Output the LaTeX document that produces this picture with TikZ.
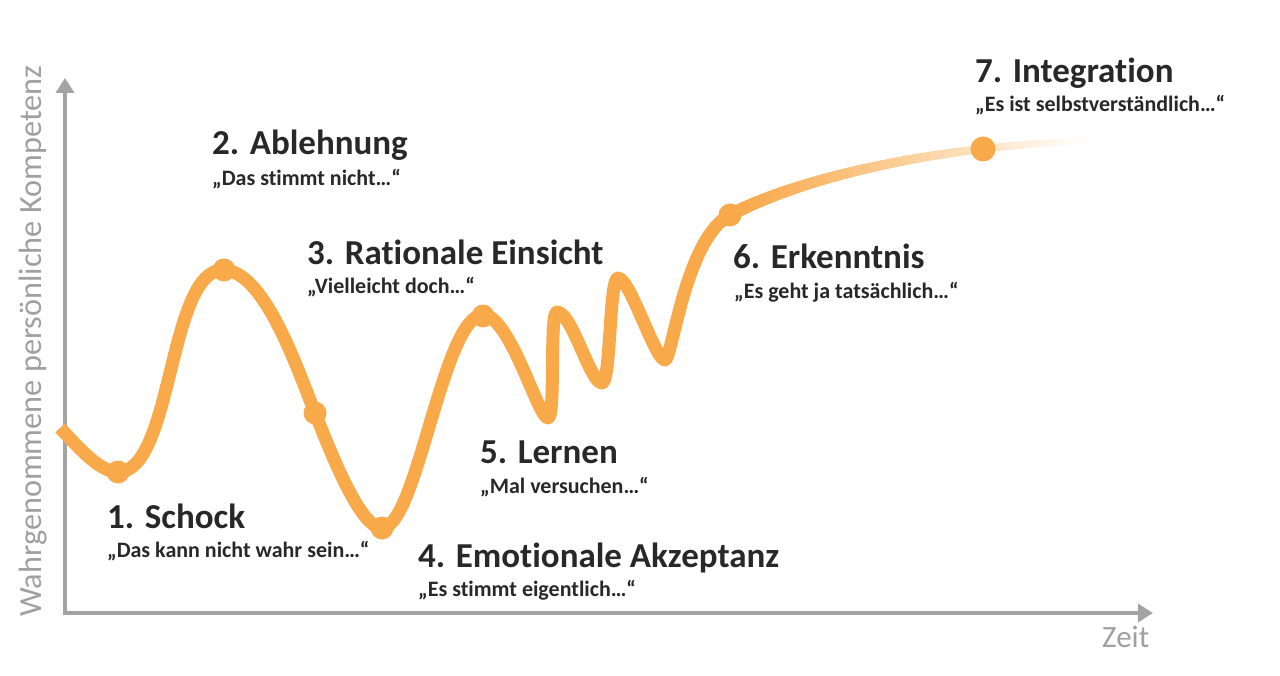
\documentclass[tikz,border=0pt]{standalone}
\usepackage{fontspec}
\setmainfont{Carlito}[Ligatures={NoCommon}]
\usetikzlibrary{arrows.meta}
\definecolor{orng}{HTML}{F8A94A}
\definecolor{txt}{HTML}{282828}
\definecolor{axisgray}{HTML}{A3A3A3}
\definecolor{labelgray}{HTML}{A0A0A0}
\tikzset{
  title/.style={anchor=base west, inner sep=0pt, text=txt, font=\fontsize{35}{40}\selectfont\bfseries},
  quote/.style={anchor=base west, inner sep=0pt, text=txt, font=\fontsize{22}{26}\selectfont\bfseries},
  axislabel/.style={inner sep=0pt, text=labelgray},
  axisline/.style={draw=axisgray, line width=4.5pt, line join=miter},
  marker/.style={fill=orng, draw=none},
  curve/.style={draw=orng, line width=13pt, line join=round, line cap=butt},
  arrowtip/.tip={Triangle[length=15pt,width=18pt]},
}
\begin{document}
\begin{tikzpicture}[x=1pt,y=-1pt]
\useasboundingbox (0,0) rectangle (1280,676);
% axes
\coordinate (ytop) at (65,78);
\coordinate (origin) at (65,613);
\coordinate (xend) at (1153,613);
\draw[axisline, arrowtip-arrowtip] (ytop) -- (origin) -- (xend);
\node[axislabel, rotate=90, anchor=base west, font=\fontsize{32.3}{38}\selectfont] (ylab) at (41,617) {Wahrgenommene persönliche Kompetenz};
\node[axislabel, anchor=base west, font=\fontsize{31}{36}\selectfont] (xlab) at (1102,647) {Zeit};
% main curve
\draw[curve] (60,428) .. controls (75,443) and (98,472) .. (118,472)
  .. controls (173,472) and (168,270) .. (223,270)
  .. controls (263,270) and (295,362) .. (315,413)
  .. controls (331,453) and (360,528) .. (382,528)
  .. controls (417,528) and (443,315) .. (483,315)
  .. controls (510,315) and (538,418) .. (548,418)
  .. controls (556,418) and (549,312) .. (557,312)
  .. controls (572,312) and (590,383) .. (602,383)
  .. controls (611,383) and (609,278) .. (618,278)
  .. controls (630,278) and (655,360) .. (665,360)
  .. controls (672,360) and (685,238.6) .. (730,215);
% fading tail
\foreach \i in {0,...,59}{
  \pgfmathsetmacro\ta{\i/60}
  \pgfmathsetmacro\tb{(\i+1)/60}
  \pgfmathsetmacro\xa{(1-\ta)^3*730+3*(1-\ta)^2*\ta*800+3*(1-\ta)*\ta^2*930+\ta^3*1085}
  \pgfmathsetmacro\ya{(1-\ta)^3*215+3*(1-\ta)^2*\ta*178.3+3*(1-\ta)*\ta^2*147+\ta^3*141}
  \pgfmathsetmacro\xb{(1-\tb)^3*730+3*(1-\tb)^2*\tb*800+3*(1-\tb)*\tb^2*930+\tb^3*1085}
  \pgfmathsetmacro\yb{(1-\tb)^3*215+3*(1-\tb)^2*\tb*178.3+3*(1-\tb)*\tb^2*147+\tb^3*141}
  \pgfmathtruncatemacro\pct{100*(1-\ta*sqrt(\ta))}
  \pgfmathsetmacro\wd{13-6.5*\ta}
  \draw[draw=orng!\pct!white, line width=\wd pt, line cap=round] (\xa,\ya) -- (\xb,\yb);
}
% markers
\fill[marker] (118,472) circle (11.5pt);
\fill[marker] (224,270) circle (11.5pt);
\fill[marker] (315,413) circle (11.5pt);
\fill[marker] (382,528) circle (11.5pt);
\fill[marker] (483,316) circle (11.5pt);
\fill[marker] (730,215) circle (11.5pt);
\fill[marker] (983,149) circle (12.5pt);
% labels
\node[title] (t1) at (107,528) {1. Schock};
\node[quote] (q1) at (107,557) {„Das kann nicht wahr sein…“};
\node[title] (t2) at (212,155) {2. Ablehnung};
\node[quote] (q2) at (212,186) {„Das stimmt nicht…“};
\node[title] (t3) at (307,265) {3. Rationale Einsicht};
\node[quote] (q3) at (307,294) {„Vielleicht doch…“};
\node[title] (t4) at (418,567) {4. Emotionale Akzeptanz};
\node[quote] (q4) at (418,596) {„Es stimmt eigentlich…“};
\node[title] (t5) at (480,463) {5. Lernen};
\node[quote] (q5) at (480,493) {„Mal versuchen…“};
\node[title] (t6) at (733,269) {6. Erkenntnis};
\node[quote] (q6) at (734,299) {„Es geht ja tatsächlich…“};
\node[title] (t7) at (975,83) {7. Integration};
\node[quote] (q7) at (975,112) {„Es ist selbstverständlich…“};
\end{tikzpicture}
\end{document}
